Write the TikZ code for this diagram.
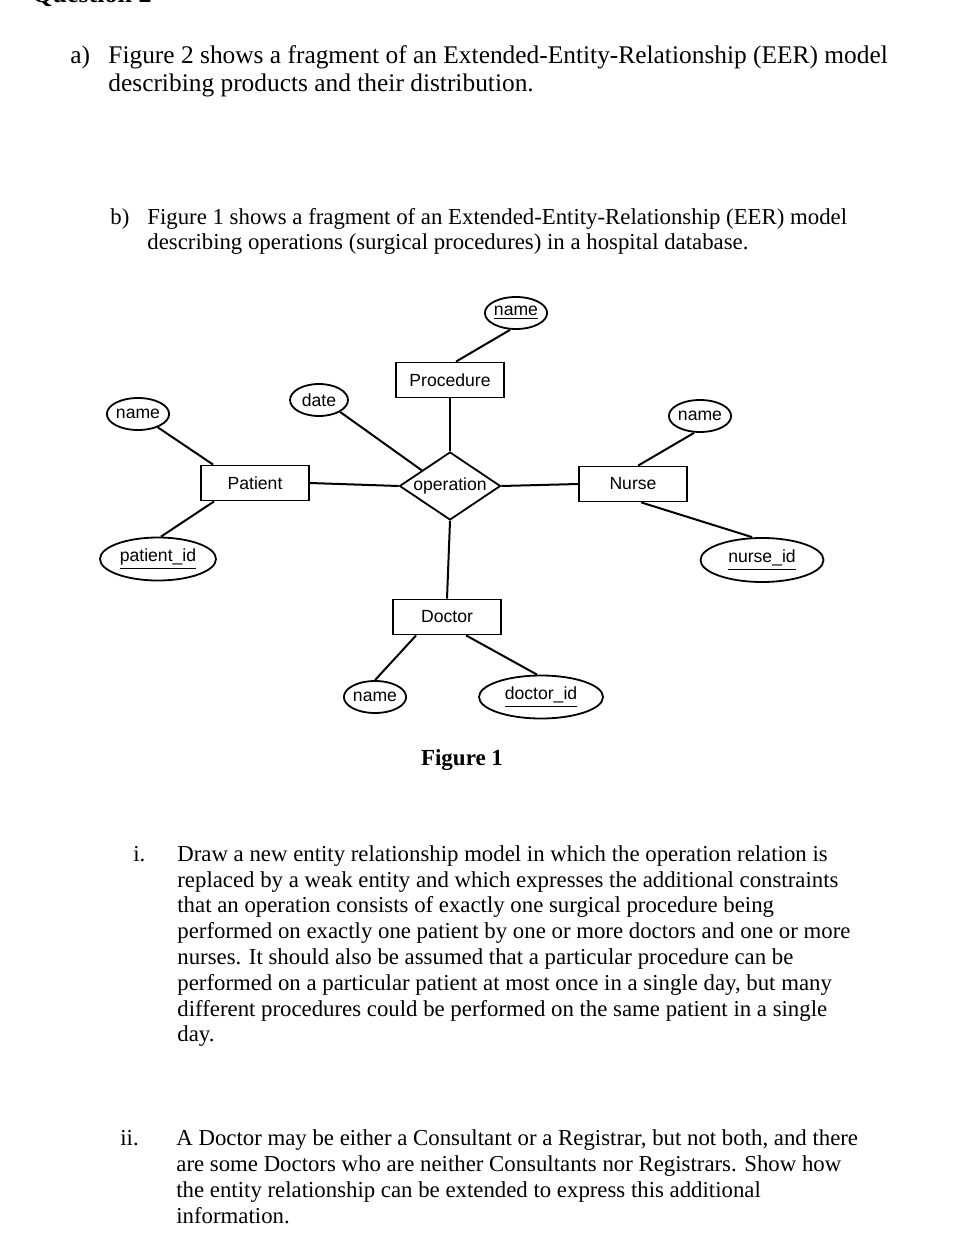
\documentclass[tikz,border=0pt]{standalone}
\usepackage{fontspec}
\setmainfont{Liberation Serif}
\newfontfamily\diagfont{Liberation Sans}
\usetikzlibrary{shapes.geometric,calc}
\begin{document}
\begin{tikzpicture}[x=0.5pt,y=-0.5pt,
  txt/.style={anchor=base west, inner sep=0pt, font=\fontsize{11.4}{12.5}\selectfont},
  txta/.style={anchor=base west, inner sep=0pt, font=\fontsize{12.7}{14}\selectfont},
  ent/.style={draw, line width=0.9pt, rectangle, inner sep=0pt, minimum width=54pt, minimum height=17.5pt, font=\diagfont\fontsize{8.8}{10}\selectfont},
  attr/.style={draw, line width=0.9pt, ellipse, inner sep=0pt, minimum height=16pt, font=\diagfont\fontsize{8.8}{10}\selectfont},
  rel/.style={draw, line width=0.9pt, diamond, aspect=1.5, inner sep=0pt, minimum width=50.5pt, minimum height=34pt, font=\diagfont\fontsize{8.8}{10}\selectfont},
  conn/.style={line width=1pt}]
\fill[white] (0,0) rectangle (957,1251);
\useasboundingbox (0,0) rectangle (957,1251);

% header text
\node[txt, font=\bfseries\fontsize{13}{14}\selectfont] (q) at (32,3) {Question 2};
\node[txta] (la) at (70,64) {a)};
\node[txta] (a1) at (108,64) {Figure 2 shows a fragment of an Extended-Entity-Relationship (EER) model};
\node[txta] (a2) at (108,92) {describing products and their distribution.};
\node[txt] (lb) at (110,225) {b)};
\node[txt] (b1) at (147,225) {Figure 1 shows a fragment of an Extended-Entity-Relationship (EER) model};
\node[txt] (b2) at (147,250) {describing operations (surgical procedures) in a hospital database.};

% diagram nodes
\node[ent] (procedure) at (450,380) {Procedure};
\node[ent] (patient) at (255,483) {Patient};
\node[ent] (nurse) at (633,484) {Nurse};
\node[ent] (doctor) at (447,617) {Doctor};
\node[rel] (op) at (450,486) {operation};

\node[attr, minimum width=30pt] (procname) at (516,313) {\underline{name}};
\node[attr, minimum width=29pt] (date) at (319,400) {date};
\node[attr, minimum width=30.5pt] (patname) at (138,414) {name};
\node[attr, minimum width=29.5pt] (nursename) at (700,416) {name};
\node[attr, minimum width=58pt, minimum height=21.5pt] (patid) at (158,559) {\underline{patient\_id}};
\node[attr, minimum width=61.5pt, minimum height=22pt] (nurseid) at (762,560) {\underline{nurse\_id}};
\node[attr, minimum width=30pt] (docname) at (375,697) {name};
\node[attr, minimum width=62pt, minimum height=21.5pt] (docid) at (541,697) {\underline{doctor\_id}};

% connectors
\draw[conn] ($(procname.south)+(-6,0)$) -- ($(procedure.north)+(6,0)$);
\draw[conn] (procedure.south) -- (op.north);
\draw[conn] (date.south east) -- ($(op.west)!0.45!(op.north)$);
\draw[conn] (patname) -- ($(patient.north west)+(13,0)$);
\draw[conn] ($(patid.north)+(3,0)$) -- ($(patient.south west)+(14,0)$);
\draw[conn] (patient.east) -- (op.west);
\draw[conn] (op.east) -- (nurse.west);
\draw[conn] ($(nursename.south)+(-6,0)$) -- ($(nurse.north west)+(60,0)$);
\draw[conn] ($(nurse.south west)+(63,0)$) -- ($(nurseid.north)+(-10,0)$);
\draw[conn] (op.south) -- (doctor.north);
\draw[conn] ($(doctor.south west)+(24,0)$) -- (docname.north);
\draw[conn] ($(doctor.south west)+(74,0)$) -- ($(docid.north)+(-4,0)$);

\node[font=\bfseries\fontsize{11.5}{12.5}\selectfont, anchor=base] (fig) at (462,765) {Figure 1};

% question i
\node[txt] (li) at (133,861) {i.};
\node[txt] (i1) at (177,861) {Draw a new entity relationship model in which the operation relation is};
\node[txt] (i2) at (177,887) {replaced by a weak entity and which expresses the additional constraints};
\node[txt] (i3) at (177,912) {that an operation consists of exactly one surgical procedure being};
\node[txt] (i4) at (177,938) {performed on exactly one patient by one or more doctors and one or more};
\node[txt] (i5) at (177,964) {nurses. It should also be assumed that a particular procedure can be};
\node[txt] (i6) at (177,990) {performed on a particular patient at most once in a single day, but many};
\node[txt] (i7) at (177,1016) {different procedures could be performed on the same patient in a single};
\node[txt] (i8) at (177,1041) {day.};

% question ii
\node[txt] (lii) at (120,1145) {ii.};
\node[txt] (ii1) at (176,1145) {A Doctor may be either a Consultant or a Registrar, but not both, and there};
\node[txt] (ii2) at (176,1171) {are some Doctors who are neither Consultants nor Registrars. Show how};
\node[txt] (ii3) at (176,1197) {the entity relationship can be extended to express this additional};
\node[txt] (ii4) at (176,1223) {information.};
\end{tikzpicture}
\end{document}
